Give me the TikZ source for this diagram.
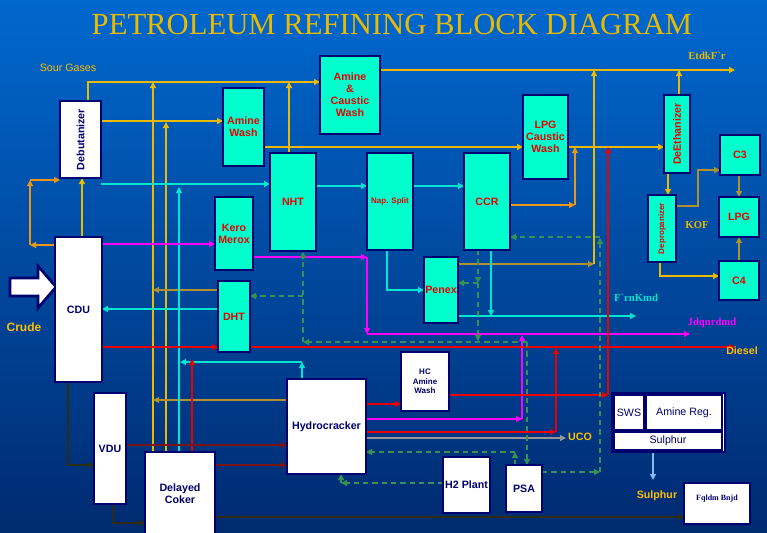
\documentclass[tikz,border=0pt]{standalone}
\usepackage{fontspec}
\setmainfont{Liberation Sans}
\newfontfamily\serf{Liberation Serif}
\usetikzlibrary{arrows.meta}
\definecolor{bgt}{RGB}{0,104,206}
\definecolor{bgb}{RGB}{0,42,112}
\definecolor{navy}{RGB}{0,0,110}
\definecolor{aqua}{RGB}{0,255,204}
\definecolor{gold}{RGB}{235,185,0}
\definecolor{orng}{RGB}{235,150,20}
\definecolor{olive}{RGB}{175,145,45}
\definecolor{cyl}{RGB}{0,230,210}
\definecolor{mag}{RGB}{255,0,255}
\definecolor{rd}{RGB}{235,0,0}
\definecolor{maroon}{RGB}{120,20,20}
\definecolor{dol}{RGB}{45,45,20}
\definecolor{dgr}{RGB}{55,145,85}
\definecolor{gry}{RGB}{150,150,150}
\definecolor{lbl}{RGB}{130,185,240}
\definecolor{lab}{RGB}{255,190,0}
\newcommand\mybox[7]{\node[#6,minimum width={(#4-#2)*0.75pt},minimum height={(#5-#3)*0.75pt}] (#1) at ({(#2+#4)/2},{(#3+#5)/2}) {#7};}
\newcommand\myrbox[7]{\node[#6,rotate=90,minimum height={(#4-#2)*0.75pt},minimum width={(#5-#3)*0.75pt}] (#1) at ({(#2+#4)/2},{(#3+#5)/2}) {#7};}
\begin{document}
\begin{tikzpicture}[x=0.75pt,y=-0.75pt,
 bx/.style={draw=navy,line width=2.2pt,inner sep=0pt,align=center,font=\bfseries\fontsize{8}{9}\selectfont},
 cb/.style={bx,fill=aqua,text=rd},
 wb/.style={bx,fill=white,text=navy},
 ln/.style={line width=0.9pt,-{Triangle[length=4.5pt,width=4.5pt]}},
 pl/.style={line width=0.9pt},
 dsh/.style={ln,dgr,dashed,dash pattern=on 4pt off 3pt},
 tl/.style={font=\bfseries\fontsize{8}{9}\selectfont,text=lab},
 gl/.style={font=\serf\bfseries\fontsize{8}{9}\selectfont}]
\shade[top color=bgt,bottom color=bgb] (0,0) rectangle (767,532);
\useasboundingbox (0,0) rectangle (767,532);
\node[text=gold,font=\serf\fontsize{23}{25}\selectfont] (title) at (392,24) {PETROLEUM REFINING BLOCK DIAGRAM};
% lines (drawn first)
\draw[ln,gold] (88,101) -- (88,82) -- (320,82);
\draw[ln,gold] (153,452) -- (153,82);
\draw[ln,gold] (166,452) -- (166,122);
\draw[ln,gold] (101,121) -- (223,121);
\draw[ln,gold] (289,153) -- (289,82);
\draw[ln,gold] (380,70) -- (735,70);
\draw[ln,gold] (264,147) -- (523,147);
\draw[ln,gold] (568,147) -- (664,147);
\draw[ln,olive] (458,264) -- (594,264);
\draw[ln,gold] (594,264) -- (594,70);
\draw[ln,orng] (510,205) -- (575,205);
\draw[ln,orng] (575,205) -- (575,147);
\draw[ln,gold] (679,95) -- (679,70);
\draw[ln,gold] (668,173) -- (668,195);
\draw[ln,olive] (676,206) -- (698,206) -- (698,170) -- (720,170);
\draw[ln,gold] (660,262) -- (660,276) -- (719,276);
\draw[ln,olive] (739,175) -- (739,197);
\draw[ln,olive] (739,261) -- (739,237);
\draw[ln,gold] (82,237) -- (82,178);
\draw[ln,orng] (55,245) -- (30,245);
\draw[ln,orng] (30,245) -- (30,180);
\draw[ln,orng] (30,180) -- (60,180);
\draw[ln,olive] (218,290) -- (153,290);
\draw[ln,olive] (287,400) -- (153,400);
% cyan
\draw[ln,cyl] (101,184) -- (270,184);
\draw[ln,cyl] (316,186) -- (367,186);
\draw[ln,cyl] (413,186) -- (464,186);
\draw[ln,cyl] (179,452) -- (179,187);
\draw[ln,cyl] (218,309) -- (102,309);
\draw[ln,cyl] (302,379) -- (302,362);
\draw[ln,cyl] (302,362) -- (180,362);
\draw[ln,cyl] (387,250) -- (387,290) -- (424,290);
\draw[ln,cyl] (491,250) -- (491,316);
\draw[ln,cyl] (458,316) -- (636,316);
% magenta
\draw[ln,mag] (102,244) -- (215,244);
\draw[ln,mag] (253,257) -- (367,257);
\draw[ln,mag] (367,257) -- (367,334);
\draw[ln,mag] (367,334) -- (690,334);
\draw[ln,mag] (366,419) -- (522,419);
\draw[ln,mag] (522,419) -- (522,335);
% red
\draw[ln,rd] (102,347) -- (218,347);
\draw[ln,rd] (250,347) -- (735,347);
\draw[ln,rd] (192,452) -- (192,359);
\draw[ln,rd] (366,404) -- (401,404);
\draw[ln,rd] (449,395) -- (608,395);
\draw[ln,rd] (608,395) -- (608,147);
\draw[ln,rd] (366,432) -- (556,432);
\draw[ln,rd] (556,432) -- (556,348);
\draw[ln,gry] (366,438) -- (566,438);
% dark
\draw[ln,maroon] (126,445) -- (287,445);
\draw[ln,maroon] (215,465) -- (287,465);
\draw[ln,dol] (68,382) -- (68,465) -- (94,465);
\draw[ln,dol] (113,504) -- (113,523) -- (145,523);
\draw[ln,dol] (215,517) -- (684,517);
\draw[ln,lbl] (653,452) -- (653,480);
% dashed
\draw[dsh] (478,250) -- (478,283);
\draw[dsh] (478,283) -- (478,341);
\draw[dsh] (478,283) -- (458,283);
\draw[dsh] (527,342) -- (303,342);
\draw[dsh] (303,342) -- (303,252);
\draw[dsh] (303,296) -- (250,296);
\draw[dsh] (527,342) -- (527,465);
\draw[dsh] (542,472) -- (600,472);
\draw[dsh] (600,472) -- (600,238);
\draw[dsh] (600,237) -- (510,237);
\draw[dsh] (443,483) -- (341,483);
\draw[dsh] (341,483) -- (341,474);
\draw[dsh] (515,465) -- (515,452);
\draw[dsh] (515,452) -- (366,452);
% crude arrow
\draw[navy,line width=2pt,fill=white] (10,278) -- (38,278) -- (38,266) -- (56,287) -- (38,308) -- (38,296) -- (10,296) -- cycle;
% boxes
\myrbox{deb}{60}{101}{101}{178}{wb}{Debutanizer}
\mybox{cdu}{55}{237}{102}{382}{wb}{CDU}
\mybox{aw}{223}{88}{264}{166}{cb}{Amine\\Wash}
\mybox{acw}{320}{56}{380}{134}{cb}{Amine\\\&\\Caustic\\Wash}
\mybox{nht}{270}{153}{316}{251}{cb}{NHT}
\mybox{km}{215}{197}{253}{270}{cb}{Kero\\Merox}
\mybox{dht}{218}{281}{250}{352}{cb}{DHT}
\mybox{ns}{367}{153}{413}{250}{cb,font=\bfseries\fontsize{6}{7}\selectfont}{Nap. Split}
\mybox{ccr}{464}{153}{510}{250}{cb}{CCR}
\mybox{pen}{424}{257}{458}{323}{cb}{Penex}
\mybox{lcw}{523}{95}{568}{179}{cb}{LPG\\Caustic\\Wash}
\myrbox{dee}{664}{95}{690}{173}{cb}{DeEthanizer}
\myrbox{dep}{648}{195}{676}{262}{cb,font=\bfseries\fontsize{6}{7}\selectfont}{Depropanizer}
\mybox{c3}{720}{135}{760}{175}{cb}{C3}
\mybox{lpg}{719}{197}{759}{237}{cb}{LPG}
\mybox{c4}{719}{261}{759}{300}{cb}{C4}
\mybox{hca}{401}{352}{449}{411}{wb,font=\bfseries\fontsize{6}{7}\selectfont}{HC\\Amine\\Wash}
\mybox{hcr}{287}{379}{366}{474}{wb}{Hydrocracker}
\mybox{vdu}{94}{393}{126}{504}{wb}{VDU}
\mybox{dc}{145}{452}{215}{536}{wb}{Delayed\\Coker}
\mybox{h2}{443}{457}{490}{513}{wb}{H2 Plant}
\mybox{psa}{506}{465}{542}{512}{wb}{PSA}
\mybox{sru}{612}{393}{725}{452}{wb}{}
\mybox{sws}{614}{395}{644}{430}{wb,draw=navy,line width=1.5pt,font=\fontsize{8}{9}\selectfont}{SWS}
\mybox{amr}{646}{395}{722}{430}{wb,line width=1.5pt,font=\fontsize{8}{9}\selectfont}{Amine Reg.}
\mybox{sul}{614}{432}{722}{450}{wb,line width=1.5pt,font=\fontsize{8}{9}\selectfont}{Sulphur}
\mybox{fb}{684}{483}{750}{524}{wb,font=\serf\bfseries\fontsize{6}{7}\selectfont,anchor=center}{\raisebox{8pt}{Fqldm Bnjd}}
% labels
\node[tl,font=\fontsize{8}{9}\selectfont] (sg) at (68,68) {Sour Gases};
\node[tl,font=\bfseries\fontsize{9}{10}\selectfont] (cr) at (24,327) {Crude};
\node[gl,text=gold] (lfg) at (707,56) {EtdkF`r};
\node[gl,text=gold] (kof) at (697,225) {KOF};
\node[gl,text=cyl] (fr) at (636,298) {F`rnKmd};
\node[gl,text=mag] (jd) at (712,323) {Jdqnrdmd};
\node[tl] (dsl) at (742,351) {Diesel};
\node[tl] (uco) at (580,437) {UCO};
\node[tl] (sl) at (657,496) {Sulphur};
\end{tikzpicture}
\end{document}
